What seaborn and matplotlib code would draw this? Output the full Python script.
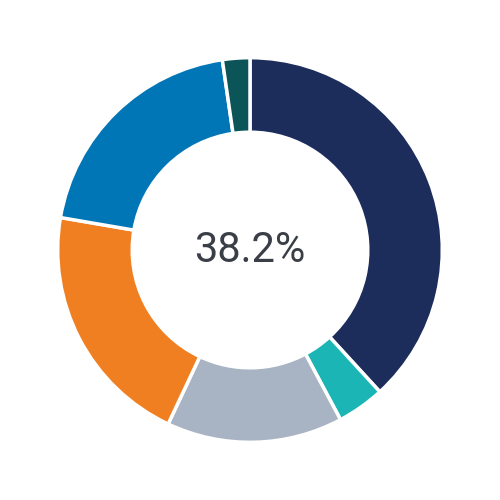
import matplotlib
matplotlib.use("Agg")
import matplotlib.pyplot as plt
import seaborn as sns

sns.set_theme(style="white")
plt.rcParams['font.family'] = ['Roboto', 'DejaVu Sans']

labels = ["A", "B", "C", "D", "E", "F"]
values = [38.2, 4.0, 14.8, 20.7, 20.0, 2.3]
colors = ["#1c2c5b", "#1cb5b5", "#a8b3c3", "#f07f22", "#0076b6", "#0b5457"]
center_text = "38.2%"

fig, ax = plt.subplots(figsize=(5, 5), dpi=100)
fig.subplots_adjust(0, 0, 1, 1)
ax.pie(values, colors=colors, startangle=90, counterclock=False,
       radius=0.8, wedgeprops=dict(width=0.31, edgecolor="white", linewidth=2.5))
ax.text(0, 0, center_text, ha="center", va="center", fontsize=30, color="#3a3f47")
ax.set_xlim(-1.04, 1.04)
ax.set_ylim(-1.04, 1.04)
ax.set_aspect("equal")
ax.axis("off")
fig.savefig("out.png", dpi=100, facecolor="white")
